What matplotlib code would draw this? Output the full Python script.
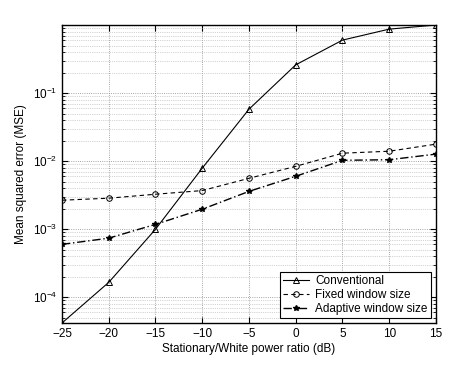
import matplotlib
matplotlib.use("Agg")
import matplotlib.pyplot as plt
import numpy as np

# Data
snr_db = [-25, -20, -15, -10, -5, 0, 5, 10, 15]
mse_conventional = [4.2e-5, 1.66e-4, 1.0e-3, 7.9e-3, 5.8e-2, 0.26, 0.60, 0.87, 1.0]
mse_fixed = [2.67e-3, 2.86e-3, 3.27e-3, 3.7e-3, 5.6e-3, 8.4e-3, 1.31e-2, 1.4e-2, 1.78e-2]
mse_adaptive = [6.0e-4, 7.4e-4, 1.18e-3, 1.97e-3, 3.6e-3, 6.0e-3, 1.03e-2, 1.05e-2, 1.27e-2]
series_labels = ["Conventional", "Fixed window size", "Adaptive window size"]
x_ticks = [-25, -20, -15, -10, -5, 0, 5, 10, 15]

plt.rcParams['font.family'] = ['Liberation Sans', 'DejaVu Sans']
plt.rcParams['font.size'] = 8.5

fig = plt.figure(figsize=(4.74, 3.71), dpi=100)
ax = fig.add_axes([0.1308, 0.1294, 0.789, 0.8032])

ax.semilogy(snr_db, mse_conventional, color='black', linestyle='-', linewidth=0.8,
            marker='^', markersize=4, markerfacecolor='none', markeredgewidth=0.7,
            label=series_labels[0])
ax.semilogy(snr_db, mse_fixed, color='black', linestyle=(0, (4, 3)), linewidth=0.8,
            marker='o', markersize=4, markerfacecolor='none', markeredgewidth=0.7,
            label=series_labels[1])
ax.semilogy(snr_db, mse_adaptive, color='black', linestyle=(0, (6, 2, 1, 2)), linewidth=1.0,
            marker='*', markersize=3.8, label=series_labels[2])

ax.set_xlim(-25, 15)
ax.set_ylim(4.2e-5, 1.0)
ax.set_xticks(x_ticks)
ax.set_xticklabels([str(v).replace('-', '\u2212') for v in x_ticks])
ax.set_yticks([1e-4, 1e-3, 1e-2, 1e-1])

# MATLAB style grid: major and minor, dotted
ax.grid(True, which='major', linestyle=':', color='#888888', linewidth=0.6)
ax.grid(True, which='minor', axis='y', linestyle=':', color='#aaaaaa', linewidth=0.5)
ax.tick_params(which='both', direction='in', top=True, right=True, labelsize=8.5)
ax.tick_params(which='major', length=4)
ax.tick_params(which='minor', length=2)
for s in ax.spines.values():
    s.set_linewidth(1.0)

ax.set_xlabel("Stationary/White power ratio (dB)", fontsize=8.5, labelpad=2)
ax.set_ylabel("Mean squared error (MSE)", fontsize=8.5, labelpad=4)

leg = ax.legend(loc='lower right', fontsize=8.5, fancybox=False, edgecolor='black',
                framealpha=1, handlelength=2.2, borderpad=0.3, labelspacing=0.15,
                borderaxespad=0.4, handletextpad=0.5)
leg.get_frame().set_linewidth(0.8)

fig.savefig("out.png", dpi=100)
